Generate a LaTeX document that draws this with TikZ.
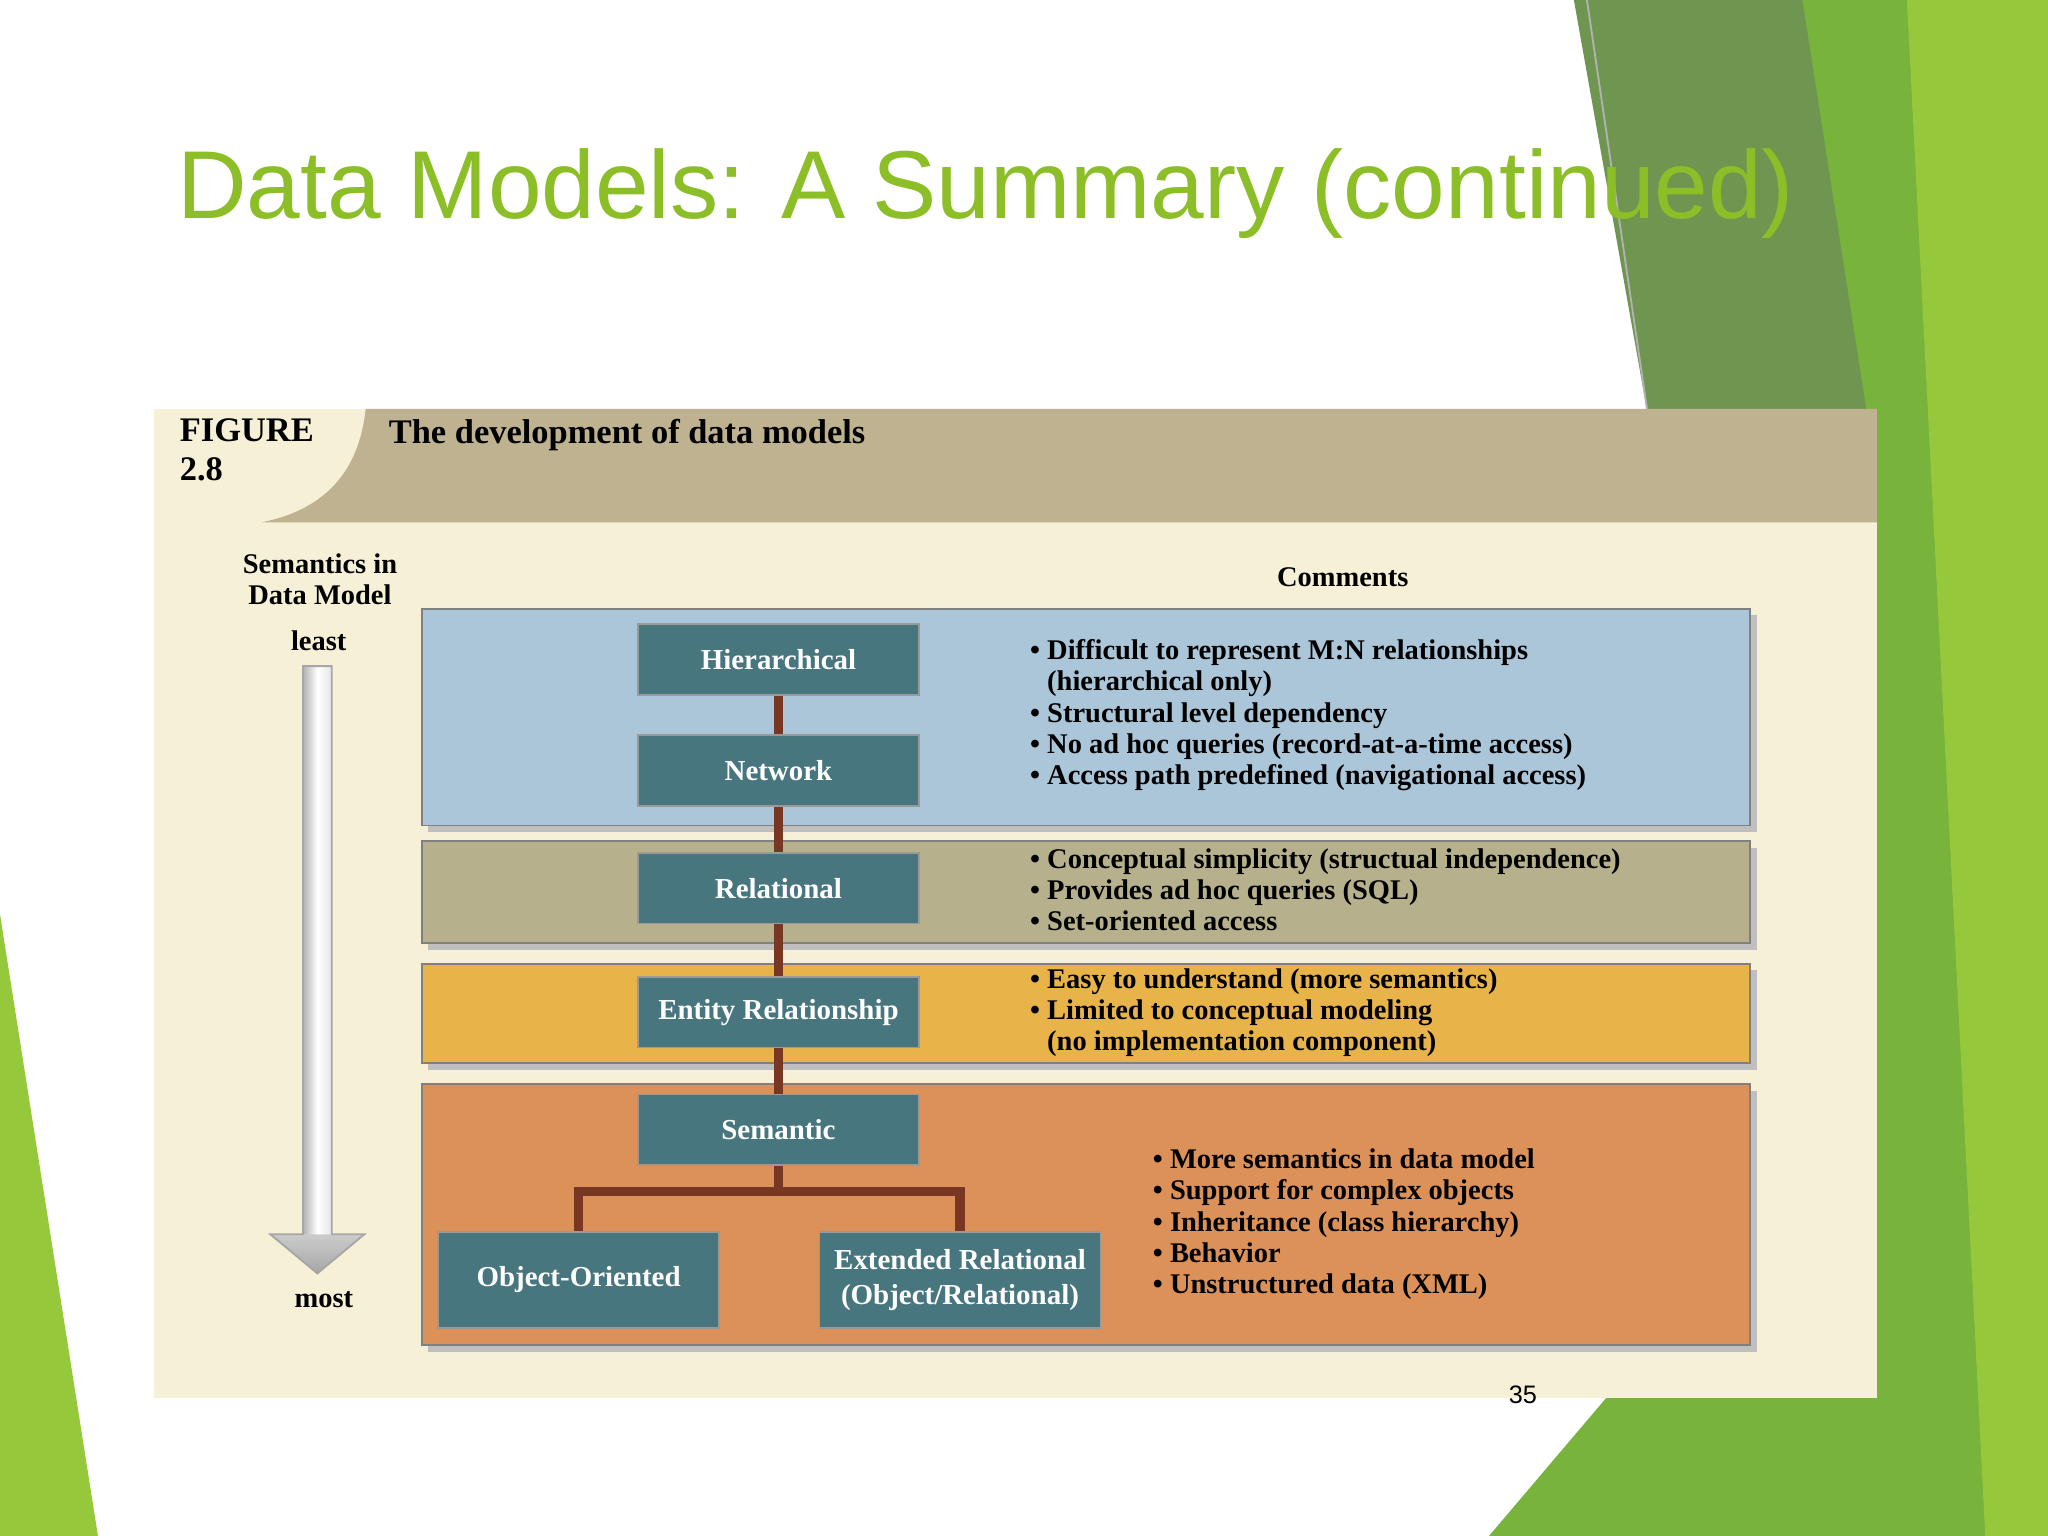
\documentclass[tikz,border=0pt]{standalone}
\usepackage{fontspec}
\setmainfont{Liberation Serif}
\newfontfamily\ttl{Liberation Sans}
\definecolor{hdr}{RGB}{190,178,145}
\definecolor{crm}{RGB}{246,240,215}
\definecolor{bblue}{RGB}{170,198,216}
\definecolor{bolive}{RGB}{182,177,140}
\definecolor{byel}{RGB}{232,180,74}
\definecolor{bora}{RGB}{220,145,88}
\definecolor{tealbox}{RGB}{72,118,126}
\definecolor{lnkc}{RGB}{120,55,35}
\definecolor{ttlg}{RGB}{140,190,40}
\definecolor{gdark}{RGB}{110,150,80}
\definecolor{gmid}{RGB}{120,180,60}
\definecolor{glight}{RGB}{150,200,60}
\begin{document}
\begin{tikzpicture}[x=0.01cm,y=-0.01cm,
 box/.style={fill=tealbox,draw=black!40,text=white,font=\fontsize{6.3}{7.5}\selectfont\bfseries,align=center,inner sep=0pt,minimum width=2.15cm,minimum height=0.54cm},
 lnk/.style={draw=lnkc,line width=2pt},
 txt/.style={font=\fontsize{6.2}{6.8}\selectfont\bfseries,align=left,anchor=north west,inner sep=0pt}]
\useasboundingbox (0,0) rectangle (1568,1176);
\fill[white] (0,0) rectangle (1568,1176);
% green decorations
\fill[gdark] (1205,0) -- (1430,0) -- (1440,320) -- (1262,320) -- cycle;
\fill[gmid] (1380,0)--(1568,0)--(1568,1176)--(1420,1176)--(1430,320)--cycle;
\fill[glight] (1460,0)--(1568,0)--(1568,1176)--(1520,1176)--cycle;
\fill[gmid] (1140,1176)--(1230,1070)--(1437,1070)--(1437,1176)--cycle;
\fill[glight] (0,700)--(75,1176)--(0,1176)--cycle;
\draw[gray!60] (1215,0)--(1262,320);
\node[font=\ttl\fontsize{21}{24}\selectfont,text=ttlg,anchor=west,inner sep=0pt] (title) at (135,148) {Data Models: A Summary (continued)};
% figure
\fill[crm] (118,313) rectangle (1437,1070);
\fill[hdr] (280,313) -- (1437,313) -- (1437,400) -- (200,400) .. controls (250,390) and (275,360) .. (280,313) -- cycle;
\node[txt,font=\fontsize{7.5}{8.5}\selectfont\bfseries] (fig) at (137,320) {FIGURE\\2.8};
\node[txt,font=\fontsize{7.5}{8.5}\selectfont\bfseries] (ft) at (297,320) {The development of data models};
\node[txt,align=center,anchor=north] (sem) at (245,423) {Semantics in\\Data Model};
\node[txt,anchor=north] (least) at (244,482) {least};
\node[txt,anchor=north] (most) at (248,988) {most};
\node[txt,anchor=north] (com) at (1028,434) {Comments};
\shade[left color=gray!60,right color=gray!20,middle color=white] (232,510) rectangle (254,945);
\shade[top color=gray!40,bottom color=gray!70] (207,945) -- (279,945) -- (243,975) -- cycle;
\draw[gray!70] (232,510)--(232,945)--(207,945)--(243,975)--(279,945)--(254,945)--(254,510)--cycle;
% bands
\fill[black!25] (328,471) rectangle (1345,637);
\fill[black!25] (328,649) rectangle (1345,727);
\fill[black!25] (328,743) rectangle (1345,819);
\fill[black!25] (328,835) rectangle (1345,1035);
\filldraw[fill=bblue,draw=gray] (323,466) rectangle (1340,632);
\filldraw[fill=bolive,draw=gray] (323,644) rectangle (1340,722);
\filldraw[fill=byel,draw=gray] (323,738) rectangle (1340,814);
\filldraw[fill=bora,draw=gray] (323,830) rectangle (1340,1030);
% connectors first, boxes on top
\coordinate (j) at (596,912);
\draw[lnk] (596,505)--(596,912);
\draw[lnk] (443,980)|-(j); \draw[lnk] (735,980)|-(j);
\node[box] (h) at (596,505) {Hierarchical};
\node[box] (n) at (596,590) {Network};
\node[box] (r) at (596,680) {Relational};
\node[box] (e) at (596,775) {Entity Relationship};
\node[box] (s) at (596,865) {Semantic};
\node[box,minimum height=0.74cm] (o) at (443,980) {Object-Oriented};
\node[box,minimum height=0.74cm] (x) at (735,980) {Extended Relational\\(Object/Relational)};
% comments
\node[txt] (c1) at (788,489) {\textbullet\ Difficult to represent M:N relationships\\\phantom{\textbullet\ }(hierarchical only)\\\textbullet\ Structural level dependency\\\textbullet\ No ad hoc queries (record-at-a-time access)\\\textbullet\ Access path predefined (navigational access)};
\node[txt] (c2) at (788,649) {\textbullet\ Conceptual simplicity (structual independence)\\\textbullet\ Provides ad hoc queries (SQL)\\\textbullet\ Set-oriented access};
\node[txt] (c3) at (788,741) {\textbullet\ Easy to understand (more semantics)\\\textbullet\ Limited to conceptual modeling\\\phantom{\textbullet\ }(no implementation component)};
\node[txt] (c4) at (882,879) {\textbullet\ More semantics in data model\\\textbullet\ Support for complex objects\\\textbullet\ Inheritance (class hierarchy)\\\textbullet\ Behavior\\\textbullet\ Unstructured data (XML)};
\node[font=\ttl\fontsize{5.5}{6}\selectfont] (pg) at (1166,1068) {35};
\end{tikzpicture}
\end{document}
